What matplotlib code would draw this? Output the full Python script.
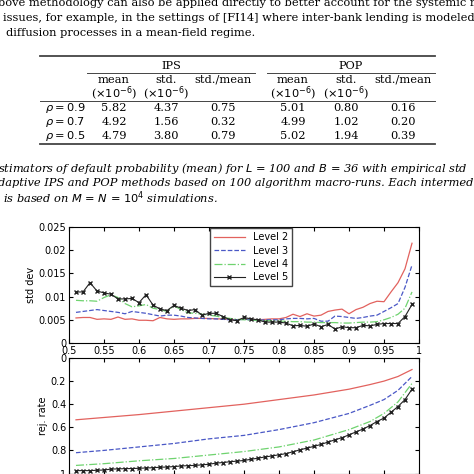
import numpy as np
import matplotlib.pyplot as plt

# grid of rho values used in the chart (one point per 0.01)
rho = np.round(np.arange(0.51, 0.995, 0.01), 2)

std_l2 = [0.0054, 0.0055, 0.0055, 0.0051, 0.0052, 0.0051, 0.0056, 0.0051, 0.0052, 0.0049,
          0.0049, 0.0048, 0.0055, 0.0052, 0.0051, 0.0052, 0.0052, 0.0053, 0.0053, 0.0053,
          0.0052, 0.0052, 0.0051, 0.0050, 0.0052, 0.0051, 0.0050, 0.0051, 0.0052, 0.0052,
          0.0055, 0.0062, 0.0057, 0.0063, 0.0058, 0.0060, 0.0068, 0.0071, 0.0073, 0.0063,
          0.0072, 0.0077, 0.0085, 0.0090, 0.0089, 0.0110, 0.0130, 0.0160, 0.0215]
std_l3 = [0.0066, 0.0068, 0.0070, 0.0072, 0.0070, 0.0068, 0.0066, 0.0063, 0.0068, 0.0066,
          0.0064, 0.0061, 0.0058, 0.0060, 0.0060, 0.0058, 0.0055, 0.0054, 0.0053, 0.0052,
          0.0052, 0.0051, 0.0050, 0.0050, 0.0051, 0.0050, 0.0049, 0.0050, 0.0050, 0.0050,
          0.0052, 0.0053, 0.0053, 0.0052, 0.0053, 0.0047, 0.0047, 0.0058, 0.0057, 0.0055,
          0.0053, 0.0055, 0.0058, 0.0060, 0.0068, 0.0076, 0.0085, 0.0120, 0.0168]
std_l4 = [0.0092, 0.0091, 0.0091, 0.0090, 0.0098, 0.0104, 0.0098, 0.0085, 0.0078, 0.0080,
          0.0083, 0.0075, 0.0072, 0.0068, 0.0080, 0.0072, 0.0065, 0.0064, 0.0062, 0.0060,
          0.0058, 0.0055, 0.0053, 0.0051, 0.0050, 0.0049, 0.0049, 0.0048, 0.0048, 0.0047,
          0.0047, 0.0046, 0.0046, 0.0045, 0.0045, 0.0044, 0.0044, 0.0044, 0.0043, 0.0043,
          0.0044, 0.0045, 0.0045, 0.0046, 0.0050, 0.0055, 0.0062, 0.0075, 0.0110]
std_l5 = [0.0110, 0.0110, 0.0130, 0.0112, 0.0108, 0.0105, 0.0095, 0.0095, 0.0096, 0.0087,
          0.0104, 0.0082, 0.0073, 0.0070, 0.0081, 0.0075, 0.0070, 0.0072, 0.0060, 0.0064,
          0.0064, 0.0057, 0.0050, 0.0048, 0.0055, 0.0052, 0.0050, 0.0045, 0.0045, 0.0045,
          0.0043, 0.0037, 0.0038, 0.0036, 0.0041, 0.0035, 0.0040, 0.0030, 0.0035, 0.0033,
          0.0033, 0.0038, 0.0037, 0.0040, 0.0042, 0.0042, 0.0042, 0.0057, 0.0083]

rej_x = [0.51, 0.55, 0.60, 0.65, 0.70, 0.75, 0.80, 0.85, 0.90, 0.93, 0.95, 0.97, 0.99]
rej_l2 = [0.535, 0.515, 0.49, 0.46, 0.43, 0.40, 0.36, 0.32, 0.27, 0.23, 0.20, 0.16, 0.10]
rej_l3 = [0.82, 0.80, 0.77, 0.74, 0.70, 0.67, 0.62, 0.56, 0.48, 0.41, 0.36, 0.28, 0.16]
rej_l4 = [0.93, 0.915, 0.89, 0.87, 0.84, 0.81, 0.77, 0.71, 0.62, 0.55, 0.48, 0.38, 0.22]
rej_l5 = [0.975, 0.975, 0.975, 0.972, 0.970, 0.962, 0.960, 0.958, 0.957, 0.955,
          0.952, 0.950, 0.946, 0.944, 0.940, 0.935, 0.932, 0.930, 0.925, 0.920,
          0.910, 0.905, 0.898, 0.893, 0.887, 0.877, 0.867, 0.857, 0.848, 0.838,
          0.828, 0.812, 0.795, 0.780, 0.765, 0.748, 0.728, 0.708, 0.690, 0.665,
          0.640, 0.615, 0.585, 0.550, 0.520, 0.470, 0.420, 0.360, 0.270]

labels = ['Level 2', 'Level 3', 'Level 4', 'Level 5']
colors = ['#e2625e', '#4a58c6', '#6fd36f', '#222222']
styles = ['-', '--', '-.', '-']

# table contents
col_heads = ['mean', 'std.', 'std./mean']
row_labels = [r'$\rho = 0.9$', r'$\rho = 0.7$', r'$\rho = 0.5$']
ips_vals = [['5.82', '4.37', '0.75'], ['4.92', '1.56', '0.32'], ['4.79', '3.80', '0.79']]
pop_vals = [['5.01', '0.80', '0.16'], ['4.99', '1.02', '0.20'], ['5.02', '1.94', '0.39']]

W = 474.0
fig = plt.figure(figsize=(4.74, 4.74), dpi=100)

def fx(px):
    return px / W

def fy(py):
    return 1 - py / W

serif = {'family': 'DejaVu Serif', 'fontsize': 8.2}
body = ['bove methodology can also be applied directly to better account for the systemic risk',
        'issues, for example, in the settings of [FI14] where inter-bank lending is modeled by',
        'diffusion processes in a mean-field regime.']
fig.text(fx(-2), fy(3), body[0], va='center', **serif)
fig.text(fx(3), fy(18), body[1], va='center', **serif)
fig.text(fx(6), fy(33), body[2], va='center', **serif)

# table rules
def hline(y, x0, x1, lw):
    fig.add_artist(plt.Line2D([fx(x0), fx(x1)], [fy(y), fy(y)], color='#444444', lw=lw))

hline(56, 40, 435, 1.3)
hline(73, 87, 255, 0.7)
hline(73, 267, 435, 0.7)
hline(101, 40, 435, 0.7)
hline(144, 40, 435, 1.3)

fig.text(fx(171), fy(66), 'IPS', ha='center', va='center', **serif)
fig.text(fx(351), fy(66), 'POP', ha='center', va='center', **serif)
ips_cols = [114, 166, 223]
pop_cols = [293, 346, 403]
for cols in (ips_cols, pop_cols):
    for i, c in enumerate(cols):
        fig.text(fx(c), fy(80), col_heads[i], ha='center', va='center', **serif)
        if i < 2:
            fig.text(fx(c), fy(94), r'($\times10^{-6}$)', ha='center', va='center', **serif)
for r in range(3):
    y = 108 + r * 14
    fig.text(fx(45), fy(y), row_labels[r], va='center', **serif)
    for i in range(3):
        fig.text(fx(ips_cols[i]), fy(y), ips_vals[r][i], ha='center', va='center', **serif)
        fig.text(fx(pop_cols[i]), fy(y), pop_vals[r][i], ha='center', va='center', **serif)

cap = dict(family='DejaVu Serif', fontsize=8.2, style='italic')
fig.text(fx(-2), fy(168), 'stimators of default probability (mean) for $L$ = 100 and $B$ = 36 with empirical std', va='center', **cap)
fig.text(fx(-2), fy(183), 'daptive IPS and POP methods based on 100 algorithm macro-runs. Each intermediate', va='center', **cap)
fig.text(fx(3), fy(198), r'is based on $M$ = $N$ = $10^4$ simulations.', va='center', **cap)

# chart
ax1 = fig.add_axes([fx(69), fy(343), fx(350), (343 - 227) / W])
ax2 = fig.add_axes([fx(69), fy(473.5), fx(350), (473.5 - 358) / W])

for s, lab, c, ls in zip([std_l2, std_l3, std_l4, std_l5], labels, colors, styles):
    if lab == 'Level 5':
        ax1.plot(rho, s, ls, color=c, lw=0.8, marker='x', ms=2.5, label=lab)
    else:
        ax1.plot(rho, s, ls, color=c, lw=0.9, label=lab)
for s, c, ls in zip([rej_l2, rej_l3, rej_l4], colors, styles):
    ax2.plot(rej_x, s, ls, color=c, lw=0.9)
ax2.plot(rho, rej_l5, '-', color=colors[3], lw=0.8, marker='x', ms=2.5)

ax1.set_xlim(0.5, 1)
ax1.set_ylim(0, 0.025)
ax1.set_xticks(np.arange(0.5, 1.001, 0.05))
ax1.set_xticklabels(['0.5', '0.55', '0.6', '0.65', '0.7', '0.75', '0.8', '0.85', '0.9', '0.95', '1'])
ax1.set_yticks([0, 0.005, 0.01, 0.015, 0.02, 0.025])
ax1.set_yticklabels(['0', '0.005', '0.01', '0.015', '0.02', '0.025'])
ax1.set_ylabel('std dev', fontsize=7, labelpad=2)
ax1.legend(loc='upper center', bbox_to_anchor=(0.52, 1.03), fontsize=7, handlelength=3.2,
           fancybox=False, edgecolor='#444444', framealpha=1, borderpad=0.4, labelspacing=0.35)

ax2.set_xlim(0.5, 1)
ax2.set_ylim(1, 0)
ax2.set_xticks(np.arange(0.5, 1.001, 0.05))
ax2.set_xticklabels([])
ax2.set_yticks([0, 0.2, 0.4, 0.6, 0.8, 1])
ax2.set_yticklabels(['0', '0.2', '0.4', '0.6', '0.8', '1'])
ax2.set_ylabel('rej. rate', fontsize=7, labelpad=2)

for ax in (ax1, ax2):
    ax.tick_params(direction='in', top=True, right=True, labelsize=7, length=3, pad=2)
    for sp in ax.spines.values():
        sp.set_linewidth(0.8)

fig.savefig('out.png', dpi=100)
